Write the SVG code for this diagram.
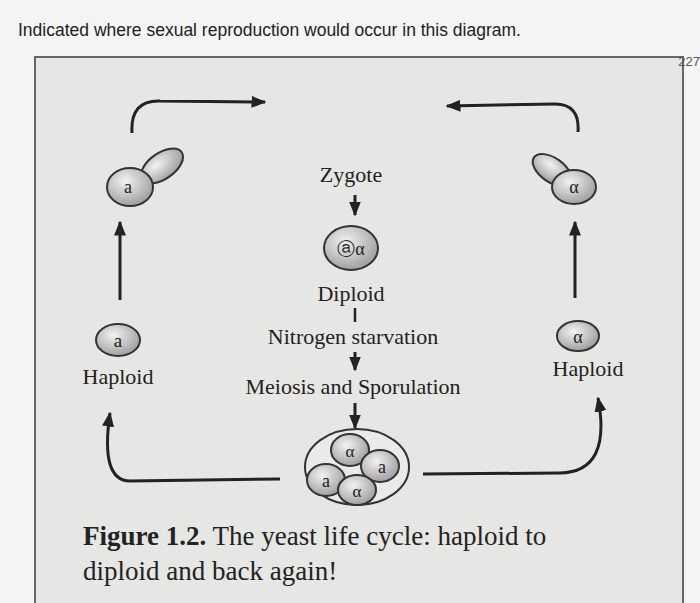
<svg xmlns="http://www.w3.org/2000/svg" width="700" height="603" viewBox="0 0 700 603">
<defs>
<marker id="ah" viewBox="0 0 10 10" refX="9" refY="5" markerWidth="5" markerHeight="5" orient="auto"><path d="M0,1 L10,5 L0,9 z" fill="#222"/></marker>
<radialGradient id="cg" cx="0.4" cy="0.35" r="0.7"><stop offset="0" stop-color="#f2f2f2"/><stop offset="1" stop-color="#9a9a9a"/></radialGradient>
</defs>
<style>
.ser{font-family:"Liberation Serif",serif;fill:#222}
.lab{font-size:22px}
.cell{fill:url(#cg);stroke:#333;stroke-width:2}
.con{fill:none;stroke:#222;stroke-width:3}
</style>
<rect width="700" height="603" fill="#f4f4f4"/>
<text x="18" y="36" font-family="Liberation Sans,sans-serif" font-size="17.5" fill="#222">Indicated where sexual reproduction would occur in this diagram.</text>
<rect x="35" y="57" width="648" height="560" fill="#e6e6e4" stroke="#666" stroke-width="2"/>
<text x="700" y="66" font-family="Liberation Sans,sans-serif" font-size="13" fill="#555" text-anchor="end">227</text>
<g id="connectors">
<path class="con" d="M132,133 Q130,100 160,101 L265,102" marker-end="url(#ah)"/>
<path class="con" d="M578,132 Q580,104 555,104 L447,106" marker-end="url(#ah)"/>
<path class="con" d="M120,300 L120,222" marker-end="url(#ah)"/>
<path class="con" d="M575,298 L575,222" marker-end="url(#ah)"/>
<path class="con" d="M280,479 L130,481 Q100,481 110,413" marker-end="url(#ah)"/>
<path class="con" d="M423,474 L560,473 Q612,472 598,398" marker-end="url(#ah)"/>
<path class="con" d="M355,195 L355,215" stroke-width="2.5" marker-end="url(#ah)"/>
<path d="M355,308 L355,322" stroke="#222" stroke-width="2.5"/>
<path class="con" d="M355,352 L355,370" stroke-width="2.5" marker-end="url(#ah)"/>
<path class="con" d="M355,403 L355,428" stroke-width="2.5" marker-end="url(#ah)"/>
</g>
<g id="cell-a-budding">
<ellipse class="cell" cx="162" cy="166" rx="24" ry="13" transform="rotate(-35 162 166)"/>
<ellipse class="cell" cx="130" cy="187" rx="23" ry="19"/>
<text class="ser" x="128" y="193" font-size="18" text-anchor="middle">a</text>
</g>
<g id="cell-alpha-budding">
<ellipse class="cell" cx="552" cy="170" rx="22" ry="12" transform="rotate(35 552 170)"/>
<ellipse class="cell" cx="574" cy="187" rx="22" ry="17"/>
<text class="ser" x="574" y="193" font-size="18" text-anchor="middle">α</text>
</g>
<g id="haploid-a">
<ellipse class="cell" cx="118" cy="340" rx="22" ry="16"/>
<text class="ser" x="118" y="347" font-size="19" text-anchor="middle">a</text>
<text class="ser lab" x="118" y="384" text-anchor="middle">Haploid</text>
</g>
<g id="haploid-alpha">
<ellipse class="cell" cx="578" cy="336" rx="21" ry="15"/>
<text class="ser" x="578" y="343" font-size="18" text-anchor="middle">α</text>
<text class="ser lab" x="588" y="376" text-anchor="middle">Haploid</text>
</g>
<g id="zygote">
<text class="ser lab" x="351" y="182" text-anchor="middle">Zygote</text>
<ellipse class="cell" cx="351" cy="248" rx="27" ry="22"/>
<text class="ser" x="351" y="255" font-size="18" text-anchor="middle">ⓐα</text>
<text class="ser lab" x="351" y="301" text-anchor="middle">Diploid</text>
</g>
<text class="ser lab" x="353" y="344" text-anchor="middle">Nitrogen starvation</text>
<text class="ser lab" x="353" y="394" text-anchor="middle">Meiosis and Sporulation</text>
<g id="ascus">
<ellipse cx="357" cy="467" rx="52" ry="38" fill="#eaeaea" stroke="#333" stroke-width="2"/>
<ellipse class="cell" cx="350" cy="450" rx="19" ry="16"/>
<ellipse class="cell" cx="380" cy="466" rx="19" ry="16"/>
<ellipse class="cell" cx="326" cy="480" rx="19" ry="16"/>
<ellipse class="cell" cx="357" cy="490" rx="19" ry="15"/>
<text class="ser" x="350" y="457" font-size="17" text-anchor="middle">α</text>
<text class="ser" x="382" y="473" font-size="18" text-anchor="middle">a</text>
<text class="ser" x="326" y="487" font-size="18" text-anchor="middle">a</text>
<text class="ser" x="357" y="497" font-size="17" text-anchor="middle">α</text>
</g>
<text class="ser" x="83" y="545" font-size="27"><tspan font-weight="bold">Figure 1.2.</tspan> The yeast life cycle: haploid to</text>
<text class="ser" x="83" y="580" font-size="27">diploid and back again!</text>
</svg>
